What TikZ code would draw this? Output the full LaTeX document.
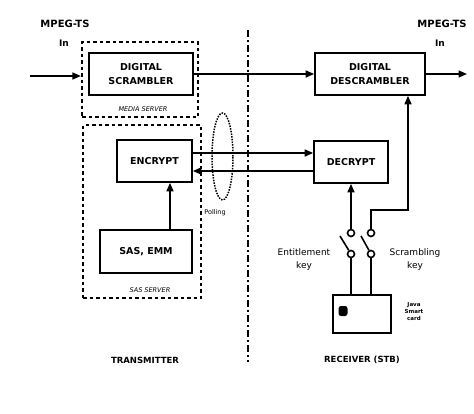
\documentclass[tikz,border=0pt]{standalone}
\usepackage{fontspec}
\setmainfont{DejaVu Sans}
\usetikzlibrary{arrows.meta,shapes.geometric}
\begin{document}
\begin{tikzpicture}[x=1pt,y=-1pt,
  blk/.style={draw,line width=1.7pt,inner sep=0pt,align=center,font=\fontsize{9.5}{14}\selectfont\bfseries},
  grp/.style={draw,line width=2.2pt,dash pattern=on 3.5pt off 3pt,inner sep=0pt},
  con/.style={line width=1.6pt},
  arr/.style={con,-{Triangle[length=8.5pt,width=7pt]}},
  lbl/.style={font=\fontsize{9}{10}\selectfont\bfseries,inner sep=0pt,align=center},
  grplbl/.style={font=\fontsize{6.5}{7}\selectfont\itshape,inner sep=0pt},
  keylbl/.style={font=\fontsize{9}{13}\selectfont,inner sep=0pt,align=center},
  sw/.style={circle,draw,line width=1.6pt,fill=white,minimum size=7pt,inner sep=0pt},
]
\useasboundingbox[fill=white] (0,0) rectangle (474,413);

% group boxes
\node[grp,minimum width=116pt,minimum height=75pt] (media) at (140,79.5) {};
\node[grp,minimum width=118pt,minimum height=173pt] (sasgrp) at (142,211.5) {};
\node[grplbl] (medialbl) at (143,109) {MEDIA SERVER};
\node[grplbl] (saslbl) at (150,290) {SAS SERVER};

% blocks
\node[blk,minimum width=104pt,minimum height=42pt] (scr) at (141,74) {DIGITAL\\SCRAMBLER};
\node[blk,minimum width=110pt,minimum height=42pt] (dscr) at (370,74) {DIGITAL\\DESCRAMBLER};
\node[blk,minimum width=75pt,minimum height=42pt] (enc) at (154.5,161) {ENCRYPT};
\node[blk,minimum width=74pt,minimum height=42pt] (dec) at (351,162) {DECRYPT};
\node[blk,minimum width=92pt,minimum height=43pt] (sas) at (146,251.5) {SAS, EMM};
\node[draw,line width=1.7pt,minimum width=58pt,minimum height=38pt,inner sep=0pt] (card) at (362,314) {};
\node[fill=black,rounded corners=2.5pt,minimum width=9pt,minimum height=10pt,inner sep=0pt] (chip) at (343,311) {};
\node[font=\fontsize{5.5}{7}\selectfont\bfseries,align=center,inner sep=0pt] (cardlbl) at (414,312) {Java\\Smart\\card};

% texts
\node[lbl,font=\fontsize{10}{11}\selectfont\bfseries] (mpegin) at (65,24) {MPEG-TS};
\node[lbl] (inl) at (64,43) {In};
\node[lbl,font=\fontsize{10}{11}\selectfont\bfseries] (mpegout) at (442,24) {MPEG-TS};
\node[lbl] (inr) at (440,43) {In};
\node[lbl,font=\fontsize{8.5}{10}\selectfont\bfseries] (tx) at (145,360) {TRANSMITTER};
\node[lbl,font=\fontsize{8.5}{10}\selectfont\bfseries] (rx) at (362,360) {RECEIVER (STB)};
\node[font=\fontsize{6.5}{7}\selectfont,inner sep=0pt] (polllbl) at (215,213) {Polling};
\node[keylbl] (entl) at (304,260) {Entitlement\\key};
\node[keylbl] (scrl) at (415,260) {Scrambling\\key};

% polling ellipse
\node[ellipse,draw,line width=1.5pt,dash pattern=on 1.5pt off 1.2pt,minimum width=21pt,minimum height=87pt,inner sep=0pt] (poll) at (222.5,156.5) {};

% divider
\coordinate (d1) at (248,30);
\coordinate (d2) at (248,362);
\draw[line width=2pt,dash pattern=on 7pt off 3pt on 2pt off 3pt] (d1) -- (d2);

% switches
\node[sw] (s1a) at (351,233) {};
\node[sw] (s1b) at (351,254) {};
\node[sw] (s2a) at (371,233) {};
\node[sw] (s2b) at (371,254) {};
\coordinate (l1) at (340,236);
\coordinate (l2) at (361,236);
\draw[con] (s1b) -- (l1);
\draw[con] (s2b) -- (l2);

% connectors
\coordinate (src) at (30,76);
\coordinate (out) at (467,74);
\coordinate (bend) at (408,210);
\draw[arr] (src) -- (src -| media.west);
\draw[arr] (scr.east) -- (dscr.west);
\draw[arr] (dscr.east) -- (out);
\draw[arr] (enc.east |- 0,153) -- (dec.west |- 0,153);
\draw[arr] (dec.west |- 0,171) -- (enc.east |- 0,171);
\draw[arr] (sas.north -| 170,0) -- (enc.south -| 170,0);
\draw[arr] (s1a) -- (dec.south);
\draw[arr] (s2a) |- (bend) -- (bend |- dscr.south);
\draw[con] (s1b) -- (s1b |- card.north);
\draw[con] (s2b) -- (s2b |- card.north);
\end{tikzpicture}
\end{document}
